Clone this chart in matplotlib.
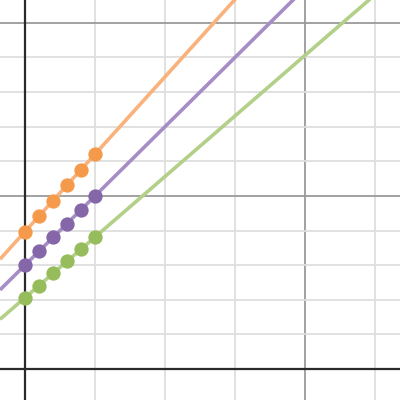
import numpy as np
import matplotlib.pyplot as plt

# points (x step 1, y)
x_pts = [0, 1, 2, 3, 4, 5]
green_pts = [2.06, 2.41, 2.76, 3.11, 3.46, 3.81]
purple_pts = [3.0, 3.4, 3.8, 4.2, 4.6, 5.0]
orange_pts = [3.97, 4.42, 4.86, 5.31, 5.76, 6.21]

# lines through the points: intercept, slope
lines = {
    'green': (2.06, 0.35),
    'purple': (3.0, 0.40),
    'orange': (3.97, 0.447),
}

x_min, x_max = -1.786, 26.79
y_min, y_max = -0.896, 10.66

fig = plt.figure(figsize=(4, 4), dpi=100)
ax = fig.add_axes([0, 0, 1, 1])
ax.set_xlim(x_min, x_max)
ax.set_ylim(y_min, y_max)
ax.axis('off')

# grid
for gx in np.arange(5, 30, 5):
    major = gx % 20 == 0
    ax.axvline(gx, color='#9a9a9a' if major else '#dedede', lw=1.3, zorder=0)
for gy in np.arange(1, 11, 1):
    major = gy % 5 == 0
    ax.axhline(gy, color='#9a9a9a' if major else '#dedede', lw=1.3, zorder=0)
ax.axhline(0, color='#2a2a2a', lw=1.6, zorder=1)
ax.axvline(0, color='#2a2a2a', lw=1.6, zorder=1)

line_colors = {'green': '#b2d088', 'purple': '#a78dc5', 'orange': '#f9b27b'}
point_colors = {'green': '#96bc5c', 'purple': '#8466a9', 'orange': '#f59a4a'}
pts = {'green': green_pts, 'purple': purple_pts, 'orange': orange_pts}

xx = np.array([x_min, x_max])
for name, (b, m) in lines.items():
    ax.plot(xx, b + m * xx, color=line_colors[name], lw=2.6, zorder=2,
            solid_capstyle='butt')
    ax.plot(x_pts, pts[name], 'o', color=point_colors[name], ms=10.3,
            mec='none', zorder=3)

fig.savefig('out.png', dpi=100)
